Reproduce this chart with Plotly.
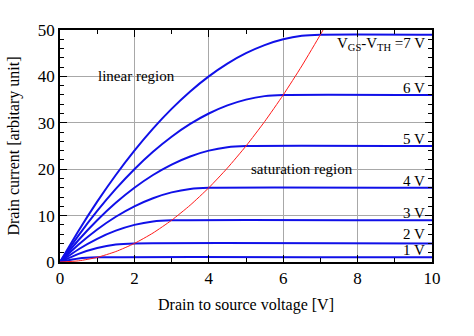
import plotly.graph_objects as go

# Drain-source voltage samples and drain current
vds_1 = [0, 0.5, 1, 10]
id_1 = [0, 0.75, 1, 1]
vds_2 = [0, 0.5, 1, 1.5, 2, 10]
id_2 = [0, 1.75, 3, 3.75, 4, 4]
vds_3 = [0, 0.5, 1, 1.5, 2, 2.5, 3, 10]
id_3 = [0, 2.75, 5, 6.75, 8, 8.75, 9, 9]
vds_4 = [0, 0.5, 1, 1.5, 2, 2.5, 3, 3.5, 4, 10]
id_4 = [0, 3.75, 7, 9.75, 12, 13.75, 15, 15.75, 16, 16]
vds_5 = [0, 0.5, 1, 1.5, 2, 2.5, 3, 3.5, 4, 4.5, 5, 10]
id_5 = [0, 4.75, 9, 12.75, 16, 18.75, 21, 22.75, 24, 24.75, 25, 25]
vds_6 = [0, 0.5, 1, 1.5, 2, 2.5, 3, 3.5, 4, 4.5, 5, 5.5, 6, 10]
id_6 = [0, 5.75, 11, 15.75, 20, 23.75, 27, 29.75, 32, 33.75, 35, 35.75, 36, 36]
vds_7 = [0, 0.5, 1, 1.5, 2, 2.5, 3, 3.5, 4, 4.5, 5, 5.5, 6, 6.5, 7, 10]
id_7 = [0, 6.75, 13, 18.75, 24, 28.75, 33, 36.75, 40, 42.75, 45, 46.75, 48, 48.75, 49, 49]
# Saturation boundary (red)
vds_b = [0, 0.5, 1, 1.5, 2, 2.5, 3, 3.5, 4, 4.5, 5, 5.5, 6, 6.5, 7, 7.1]
id_b = [0, 0.25, 1, 2.25, 4, 6.25, 9, 12.25, 16, 20.25, 25, 30.25, 36, 42.25, 49, 50.41]

curve_labels = ["1 V", "2 V", "3 V", "4 V", "5 V", "6 V",
                "V<sub>GS</sub>-V<sub>TH</sub> =7 V"]
label_y = [2.5, 6.0, 10.5, 17.4, 26.6, 37.6, 46.9]

curves = [(vds_1, id_1), (vds_2, id_2), (vds_3, id_3), (vds_4, id_4),
          (vds_5, id_5), (vds_6, id_6), (vds_7, id_7)]

fig = go.Figure()
for xs, ys in curves:
    fig.add_trace(go.Scatter(x=xs, y=ys, mode="lines",
                             line=dict(color="#1010e8", width=2, shape="spline", smoothing=0.6),
                             showlegend=False, hoverinfo="skip"))
fig.add_trace(go.Scatter(x=vds_b, y=id_b, mode="lines",
                         line=dict(color="#ff1a1a", width=1, shape="spline", smoothing=0.6),
                         showlegend=False, hoverinfo="skip"))

font_family = "Liberation Serif, Times New Roman, serif"
for txt, yv in zip(curve_labels, label_y):
    fig.add_annotation(x=9.85, y=yv, text=txt, showarrow=False, xanchor="right",
                       yanchor="middle", borderpad=0,
                       font=dict(family=font_family, size=15, color="black"))
fig.add_annotation(x=1.0, y=40, text="linear region", showarrow=False, xanchor="left",
                   yanchor="middle", borderpad=0,
                   font=dict(family=font_family, size=15, color="black"))
fig.add_annotation(x=5.1, y=20, text="saturation region", showarrow=False, xanchor="left",
                   yanchor="middle", borderpad=0,
                   font=dict(family=font_family, size=15, color="black"))

axis_common = dict(showline=True, linecolor="black", linewidth=1.5, mirror="allticks",
                   ticks="inside", ticklen=7, tickcolor="black", tickwidth=1,
                   showgrid=True, gridcolor="#a8a8a8", gridwidth=1, zeroline=False,
                   tickfont=dict(family=font_family, size=17, color="black"))
fig.update_xaxes(range=[0, 10], tick0=0, dtick=2,
                 minor=dict(dtick=1, ticks="inside", ticklen=4, tickcolor="black", showgrid=False),
                 title=dict(text="Drain to source voltage [V]", standoff=12,
                            font=dict(family=font_family, size=16, color="black")),
                 **axis_common)
fig.update_yaxes(range=[0, 50], tick0=0, dtick=10,
                 minor=dict(dtick=2, ticks="inside", ticklen=4, tickcolor="black", showgrid=False),
                 title=dict(text="Drain current [arbitary unit]", standoff=14,
                            font=dict(family=font_family, size=16, color="black")),
                 **axis_common)
fig.update_layout(width=474, height=336, margin=dict(l=60, r=42, t=30, b=74),
                  plot_bgcolor="white", paper_bgcolor="white")
fig.write_html("out.html")
